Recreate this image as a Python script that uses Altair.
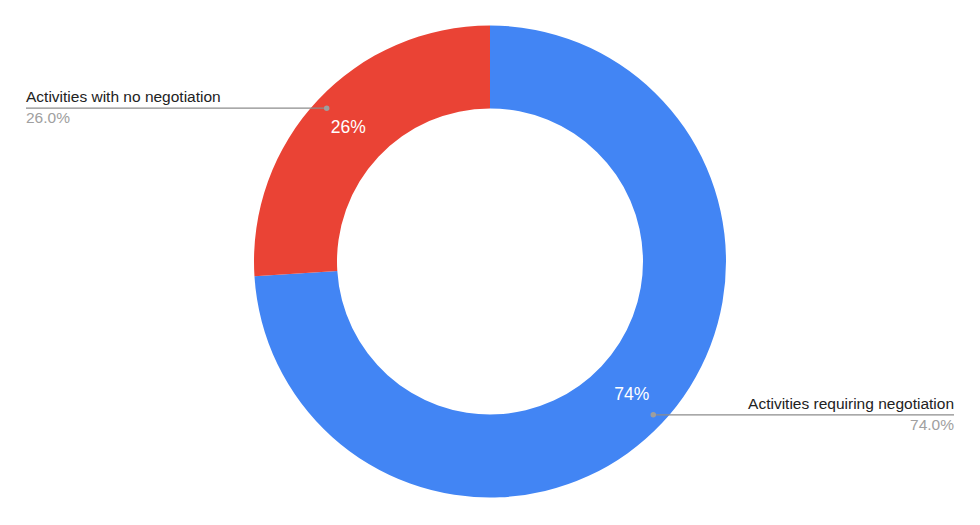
import math
import altair as alt
import pandas as pd

categories = ["Activities requiring negotiation", "Activities with no negotiation"]
values = [74.0, 26.0]
colors = ["#4285F4", "#EA4335"]

W, H = 964, 507
CX, CY = W / 2, H / 2
R_OUT, R_IN = 236, 153
R_DOT = 224
LEFT_END, RIGHT_END = 18, 946

total = sum(values)
rows = []
cum = 0.0
for i, (c, v) in enumerate(zip(categories, values)):
    mid = (cum + v / 2) / total * 2 * math.pi
    cum += v
    dx = CX + R_DOT * math.sin(mid)
    dy = CY - R_DOT * math.cos(mid)
    side = "right" if math.sin(mid) > 0 else "left"
    end = RIGHT_END if side == "right" else LEFT_END
    rows.append(dict(
        category=c, value=v, ord=i,
        pct_in=f"{round(v / total * 100)}%",
        pct_out=f"{v / total * 100:.1f}%",
        dot_x=dx, dot_y=dy, end_x=end, side=side,
        cat_y=dy - 6, pct_y=dy + 15,
    ))
df = pd.DataFrame(rows)

color_scale = alt.Scale(domain=categories, range=colors)
base = alt.Chart(df)

arc = base.mark_arc(outerRadius=R_OUT, innerRadius=R_IN).encode(
    theta=alt.Theta("value:Q", stack=True),
    color=alt.Color("category:N", scale=color_scale, legend=None),
    order=alt.Order("ord:Q"),
)

inner = base.mark_text(radius=(R_OUT + R_IN) / 2, color="white", fontSize=17.5,
                       font="Liberation Sans", align="center", baseline="middle").encode(
    theta=alt.Theta("value:Q", stack=True),
    order=alt.Order("ord:Q"),
    text="pct_in:N",
)

xs = alt.Scale(domain=[0, W], nice=False, zero=False)
ys = alt.Scale(domain=[0, H], nice=False, zero=False, reverse=True)

lines = base.mark_rule(color="#8c8c8c", strokeWidth=1.2).encode(
    x=alt.X("dot_x:Q", scale=xs, axis=None),
    x2="end_x:Q",
    y=alt.Y("dot_y:Q", scale=ys, axis=None),
)

dots = base.mark_circle(color="#9e9e9e", size=30, opacity=1).encode(
    x=alt.X("dot_x:Q", scale=xs, axis=None),
    y=alt.Y("dot_y:Q", scale=ys, axis=None),
)

layers = [arc, lines, dots, inner]
for side, align in (("left", "left"), ("right", "right")):
    sub = base.transform_filter(alt.datum.side == side)
    layers.append(sub.mark_text(align=align, baseline="alphabetic", fontSize=15.5,
                                font="Liberation Sans", color="#222222").encode(
        x=alt.X("end_x:Q", scale=xs, axis=None),
        y=alt.Y("cat_y:Q", scale=ys, axis=None),
        text="category:N",
    ))
    layers.append(sub.mark_text(align=align, baseline="alphabetic", fontSize=15.5,
                                font="Liberation Sans", color="#a0a0a0").encode(
        x=alt.X("end_x:Q", scale=xs, axis=None),
        y=alt.Y("pct_y:Q", scale=ys, axis=None),
        text="pct_out:N",
    ))

chart = alt.layer(*layers).properties(
    width=W, height=H, padding=0, autosize=alt.AutoSizeParams(type="none")
).configure_view(stroke=None)

chart.save("out.html", embed_options={"renderer": "svg", "actions": False})
